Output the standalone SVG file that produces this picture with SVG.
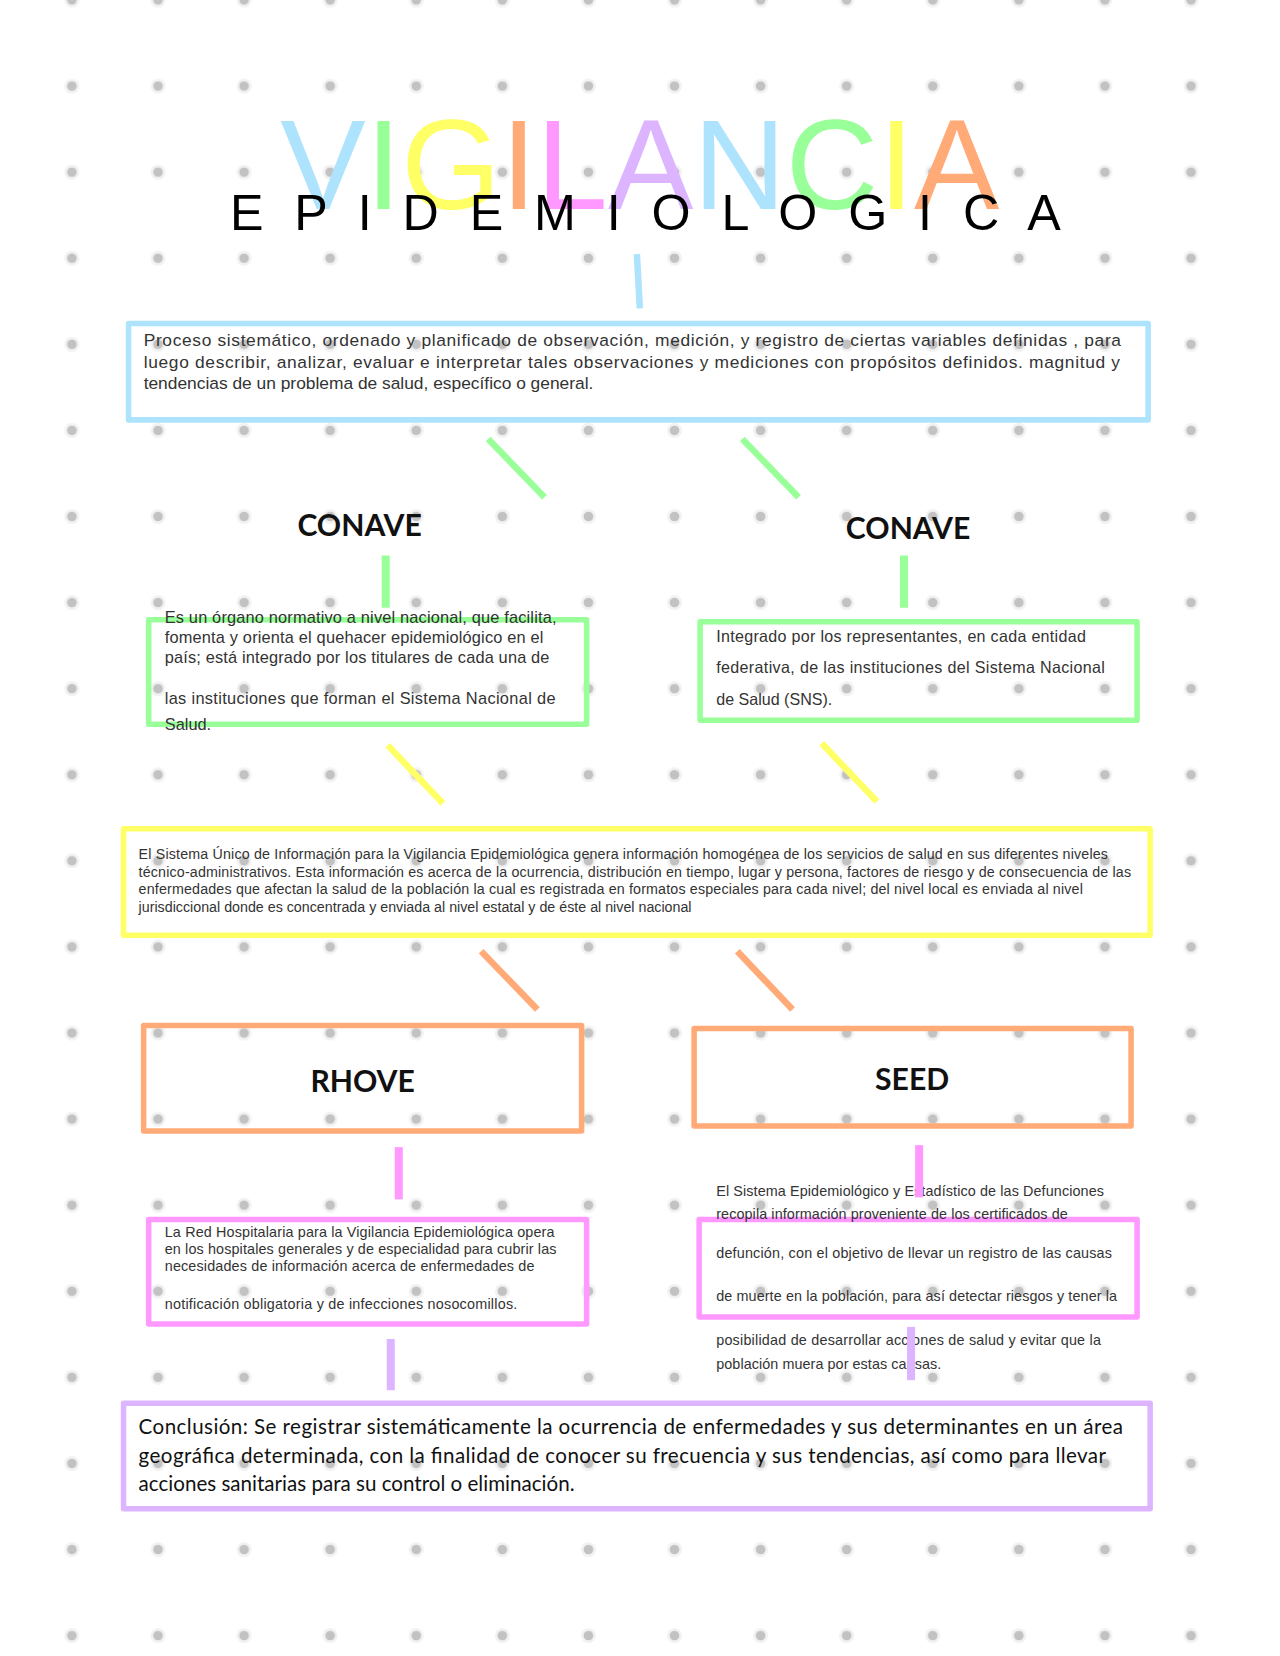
<svg xmlns="http://www.w3.org/2000/svg" width="1280" height="1656" viewBox="0 0 1280 1656">
<defs>
<pattern id="dots" patternUnits="userSpaceOnUse" x="28.75" y="-42.85" width="85.7" height="85.7">
<circle cx="42.85" cy="42.85" r="7.5" fill="#f2f2f2"/>
<circle cx="42.85" cy="42.85" r="4.8" fill="#c2c2c2"/>
</pattern>
</defs>
<style>
.box{fill:none;stroke-width:5.5;stroke-linejoin:round}
.ln{stroke-width:6.5;stroke-linecap:butt;fill:none}
.vl{stroke-width:8;fill:none}
.bl{stroke:#ade3fd}.gr{stroke:#99ff99}.ye{stroke:#ffff66}.or{stroke:#ffaa77}.pk{stroke:#ff99ff}.pu{stroke:#ddb4ff}
.t{font-family:"Liberation Sans",Arial,sans-serif;fill:#333}
.h{font-family:Lato,"Open Sans",sans-serif;font-weight:bold;fill:#111;text-anchor:middle}
.c{font-family:Lato,"Open Sans",sans-serif;fill:#111;font-size:20.5px}
</style>
<g transform="scale(1.0045)">
<rect x="28.75" y="-42.85" width="1199.8" height="1720" fill="url(#dots)"/>

<g id="title">
<text x="279" y="208" font-family="Liberation Sans, Arial, sans-serif" font-size="127" textLength="716" lengthAdjust="spacingAndGlyphs"><tspan fill="#ade3fd">V</tspan><tspan fill="#99ff99">I</tspan><tspan fill="#ffff66">G</tspan><tspan fill="#ffaa77">I</tspan><tspan fill="#ff99ff">L</tspan><tspan fill="#ddb4ff">A</tspan><tspan fill="#ade3fd">N</tspan><tspan fill="#99ff99">C</tspan><tspan fill="#ffff66">I</tspan><tspan fill="#ffaa77">A</tspan></text>
<text x="229" y="229" font-family="Liberation Sans, Arial, sans-serif" font-size="50" fill="#000" textLength="827" lengthAdjust="spacing">E P I D E M I O L O G I C A</text>
</g>

<g id="def">
<rect class="box bl" x="128" y="322" width="1015" height="96"/>
<text class="t" font-size="17.3"><tspan x="143" y="344" textLength="973" lengthAdjust="spacing">Proceso sistemático, ordenado y planificado de observación, medición, y registro de ciertas variables definidas , para</tspan><tspan x="143" y="366" textLength="972" lengthAdjust="spacing">luego describir, analizar, evaluar e interpretar tales observaciones y mediciones con propósitos definidos. magnitud y</tspan><tspan x="143" y="387">tendencias de un problema de salud, específico o general.</tspan></text>
</g>

<g id="conave1">
<text class="h" x="358" y="534" font-size="30">CONAVE</text>
</g>
<g id="conave2">
<text class="h" x="904" y="537" font-size="30">CONAVE</text>
</g>

<g id="conave1-text">
<rect class="box gr" x="148" y="617" width="436" height="104"/>
<text class="t" font-size="16.3"><tspan x="164" y="620" textLength="390" lengthAdjust="spacing">Es un órgano normativo a nivel nacional, que facilita,</tspan><tspan x="164" y="640" textLength="377" lengthAdjust="spacing">fomenta y orienta el quehacer epidemiológico en el</tspan><tspan x="164" y="660" textLength="383" lengthAdjust="spacing">país; está integrado por los titulares de cada una de</tspan><tspan x="164" y="701" textLength="389" lengthAdjust="spacing">las instituciones que forman el Sistema  Nacional de</tspan><tspan x="164" y="727">Salud.</tspan></text>
</g>

<g id="conave2-text">
<rect class="box gr" x="697" y="619" width="435" height="98"/>
<text class="t" font-size="16"><tspan x="713" y="639" textLength="368" lengthAdjust="spacing">Integrado por los representantes, en cada entidad</tspan><tspan x="713" y="670" textLength="387" lengthAdjust="spacing">federativa, de las  instituciones del Sistema Nacional</tspan><tspan x="713" y="702">de Salud  (SNS).</tspan></text>
</g>

<g id="suive">
<rect class="box ye" x="123" y="825" width="1022" height="106"/>
<text class="t" font-size="14.2"><tspan x="138" y="855" textLength="965" lengthAdjust="spacing">El Sistema Único de Información para la Vigilancia Epidemiológica genera información homogénea de los servicios de salud en sus diferentes niveles</tspan><tspan x="138" y="873" textLength="988" lengthAdjust="spacing">técnico-administrativos. Esta información es acerca de la ocurrencia, distribución en tiempo, lugar y persona, factores de riesgo y de consecuencia de las</tspan><tspan x="138" y="890" textLength="940" lengthAdjust="spacing">enfermedades que afectan la salud de la población la cual es registrada en formatos especiales para cada nivel; del nivel local es enviada al nivel</tspan><tspan x="138" y="908">jurisdiccional donde es concentrada y enviada al nivel estatal y de éste al nivel nacional</tspan></text>
</g>

<g id="rhove">
<rect class="box or" x="143" y="1021" width="436" height="105"/>
<text class="h" x="361" y="1087" font-size="30">RHOVE</text>
</g>
<g id="seed">
<rect class="box or" x="691" y="1024" width="435" height="97"/>
<text class="h" x="908" y="1085" font-size="30">SEED</text>
</g>

<g id="rhove-text">
<rect class="box pk" x="148" y="1214" width="436" height="104"/>
<text class="t" font-size="14.3"><tspan x="164" y="1231" textLength="388" lengthAdjust="spacing">La Red Hospitalaria para la Vigilancia Epidemiológica opera</tspan><tspan x="164" y="1248" textLength="390" lengthAdjust="spacing">en los hospitales generales y de especialidad para cubrir las</tspan><tspan x="164" y="1265" textLength="368" lengthAdjust="spacing">necesidades de información acerca de enfermedades de</tspan><tspan x="164" y="1303" textLength="351" lengthAdjust="spacing">notificación obligatoria   y de infecciones nosocomillos.</tspan></text>
</g>

<g id="seed-text">
<rect class="box pk" x="696" y="1214" width="436" height="97"/>
<text class="t" font-size="14.3"><tspan x="713" y="1191" textLength="386" lengthAdjust="spacing">El Sistema Epidemiológico y Estadístico de las Defunciones</tspan><tspan x="713" y="1214" textLength="350" lengthAdjust="spacing">recopila información proveniente de los certificados de</tspan><tspan x="713" y="1252" textLength="394" lengthAdjust="spacing">defunción, con   el objetivo de llevar un registro de las causas</tspan><tspan x="713" y="1295" textLength="399" lengthAdjust="spacing">de muerte en la población, para así detectar riesgos y tener la</tspan><tspan x="713" y="1339" textLength="383" lengthAdjust="spacing">posibilidad de desarrollar acciones de salud y evitar que   la</tspan><tspan x="713" y="1363" textLength="224" lengthAdjust="spacing">población muera por estas causas.</tspan></text>
</g>

<g id="conclusion">
<rect class="box pu" x="123" y="1397" width="1022" height="105"/>
<text class="c"><tspan x="138" y="1428" textLength="980" lengthAdjust="spacing">Conclusión: Se registrar sistemáticamente la ocurrencia de enfermedades y sus determinantes en un área</tspan><tspan x="138" y="1456" textLength="963" lengthAdjust="spacing">geográfica determinada, con la finalidad de conocer su frecuencia y sus tendencias, así como para llevar</tspan><tspan x="138" y="1484">acciones sanitarias para su control o eliminación.</tspan></text>
</g>

<g id="connectors">
<line class="ln bl" x1="634" y1="253" x2="637" y2="307"/>
<line class="ln gr" x1="486" y1="437" x2="542" y2="495"/>
<line class="ln gr" x1="739" y1="437" x2="795" y2="495"/>
<line class="vl gr" x1="384" y1="553" x2="384" y2="605"/>
<line class="vl gr" x1="900" y1="553" x2="900" y2="605"/>
<line class="ln ye" x1="386" y1="742" x2="441" y2="800"/>
<line class="ln ye" x1="818" y1="740" x2="873" y2="798"/>
<line class="ln or" x1="479" y1="947" x2="535" y2="1005"/>
<line class="ln or" x1="734" y1="947" x2="789" y2="1005"/>
<line class="vl pk" x1="397" y1="1142" x2="397" y2="1194"/>
<line class="vl pk" x1="915" y1="1140" x2="915" y2="1192"/>
<line class="vl pu" x1="389" y1="1333" x2="389" y2="1384"/>
<line class="vl pu" x1="907" y1="1321" x2="907" y2="1374"/>
</g>
</g>
</svg>
